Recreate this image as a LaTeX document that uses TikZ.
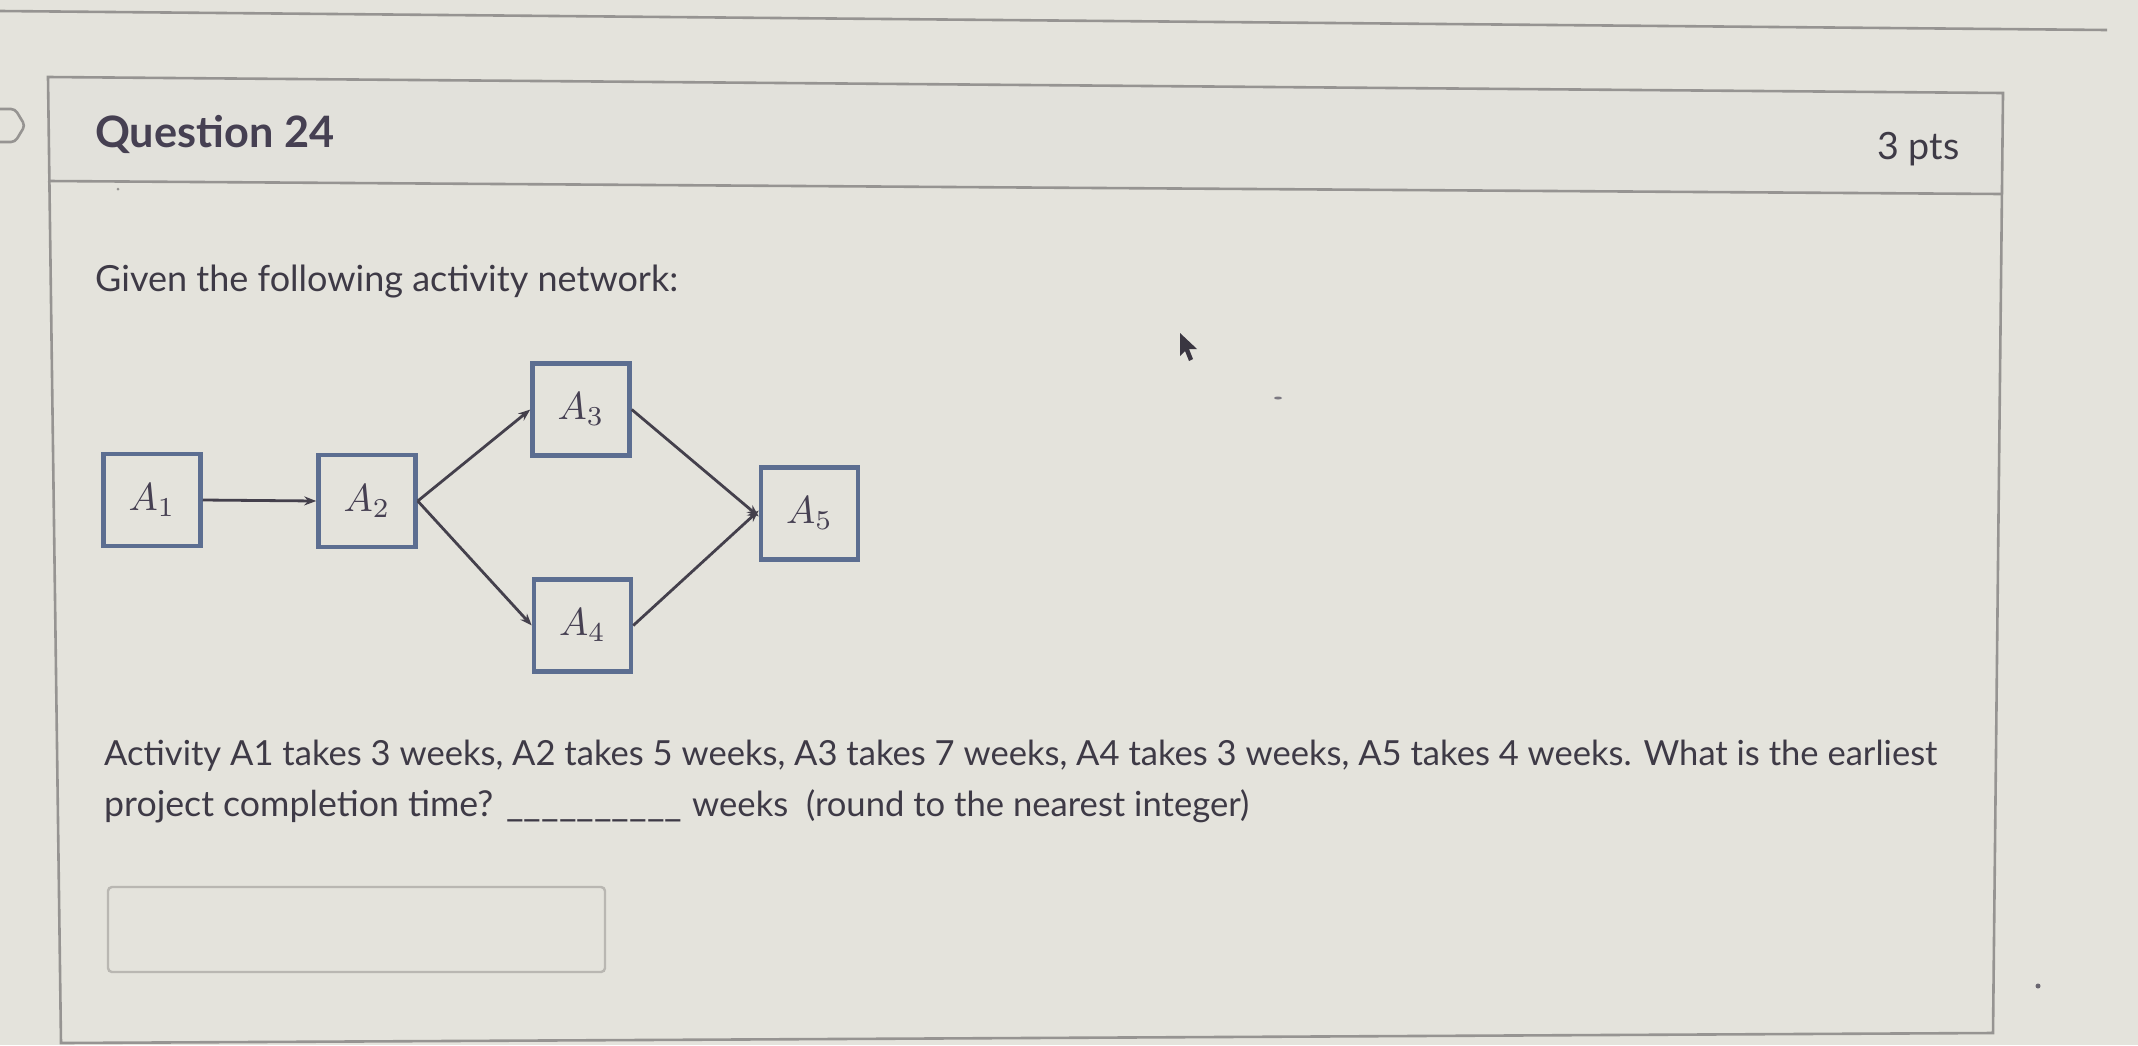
\documentclass[tikz,border=0pt]{standalone}
\usepackage{fontspec}
\setmainfont{Lato}
\usepackage{graphicx}
\usetikzlibrary{arrows.meta}
\definecolor{bgcol}{RGB}{228,227,220}
\definecolor{hdcol}{RGB}{226,225,219}
\definecolor{rulecol}{RGB}{150,148,146}
\definecolor{txtcol}{RGB}{62,58,70}
\definecolor{boxcol}{RGB}{92,110,145}
\definecolor{arrcol}{RGB}{68,64,76}
\definecolor{labcol}{RGB}{70,64,82}
\definecolor{ansbox}{RGB}{185,183,178}
\newcommand{\actlab}[1]{\scalebox{3.9}{$A_{#1}$}}
\tikzset{
  abox/.style={draw=boxcol, line width=4.5pt, minimum width=97pt, minimum height=92pt, inner sep=0pt, text=labcol},
  conn/.style={draw=arrcol, line width=2.8pt, -{Stealth[length=12pt,width=9pt]}},
  txt/.style={anchor=base west, inner sep=0pt, text=txtcol},
  rulel/.style={draw=rulecol, line width=2.6pt}
}
\begin{document}
\begin{tikzpicture}[x=1pt,y=-1pt]
\useasboundingbox (0,0) rectangle (2138,1045);
\fill[bgcol] (0,0) rectangle (2138,1045);
% top screen line
\draw[rulel] (0,11) -- (2107,30);
% left chevron icon
\draw[draw=rulecol, line width=2.6pt, rounded corners=4pt] (-5,109) -- (15,109) -- (25,125.5) -- (15,142) -- (-5,142);
% question box
\fill[hdcol] (48,77) -- (2003,93) -- (2002,194) -- (48,181) -- cycle;
\draw[rulel] (48,77) -- (2003,93) -- (1993,1033) -- (61,1043) -- cycle;
\draw[rulel] (48,181) -- (2002,194);
% header texts
\node[txt, text=labcol] (qtitle) at (95,147) {\resizebox{239pt}{!}{\bfseries Question 24}};
\node[txt] (pts) at (1877,159) {\resizebox{82pt}{!}{3 pts}};
% body texts
\node[txt] (given) at (95,291) {\resizebox{583pt}{!}{Given the following activity network:}};
\node[txt] (line1) at (104,765) {\resizebox{1833pt}{!}{Activity A1 takes 3 weeks, A2 takes 5 weeks, A3 takes 7 weeks, A4 takes 3 weeks, A5 takes 4 weeks. What is the earliest}};
\node[txt] (line2a) at (104,816) {\resizebox{389pt}{!}{project completion time?}};
\node[txt] (blank) at (506,816) {\resizebox{176pt}{!}{\_\_\_\_\_\_\_\_\_\_}};
\node[txt] (line2b) at (692,816) {\resizebox{557pt}{!}{weeks\ \ (round to the nearest integer)}};
% answer box
\draw[draw=ansbox, line width=2.4pt, rounded corners=4pt] (108,887) rectangle (605,972);
% diagram
\node[abox] (a1) at (152,500) {\actlab{1}};
\node[abox] (a2) at (367,501) {\actlab{2}};
\node[abox] (a3) at (581,409.5) {\actlab{3}};
\node[abox] (a4) at (582.5,625.5) {\actlab{4}};
\node[abox] (a5) at (809.5,513.5) {\actlab{5}};
\draw[conn] (a1.east) -- (a2.west);
\draw[conn] (a2.east) -- (a3.west);
\draw[conn] (a2.east) -- (a4.west);
\draw[conn] (a3.east) -- ([yshift=-3pt]a5.west);
\draw[conn] (a4.east) -- ([yshift=3pt]a5.west);
% mouse cursor
\fill[arrcol!85!black] (1180,333) -- (1180,356) -- (1185,351) -- (1189,361) -- (1193,359) -- (1189,349) -- (1197,349) -- cycle;
% specks
\fill[arrcol!70] (1278,398) ellipse (4pt and 1.5pt);
\fill[arrcol!80] (2038,986) circle (2.5pt);
\fill[rulecol] (118,189) circle (1.5pt);
\end{tikzpicture}
\end{document}
